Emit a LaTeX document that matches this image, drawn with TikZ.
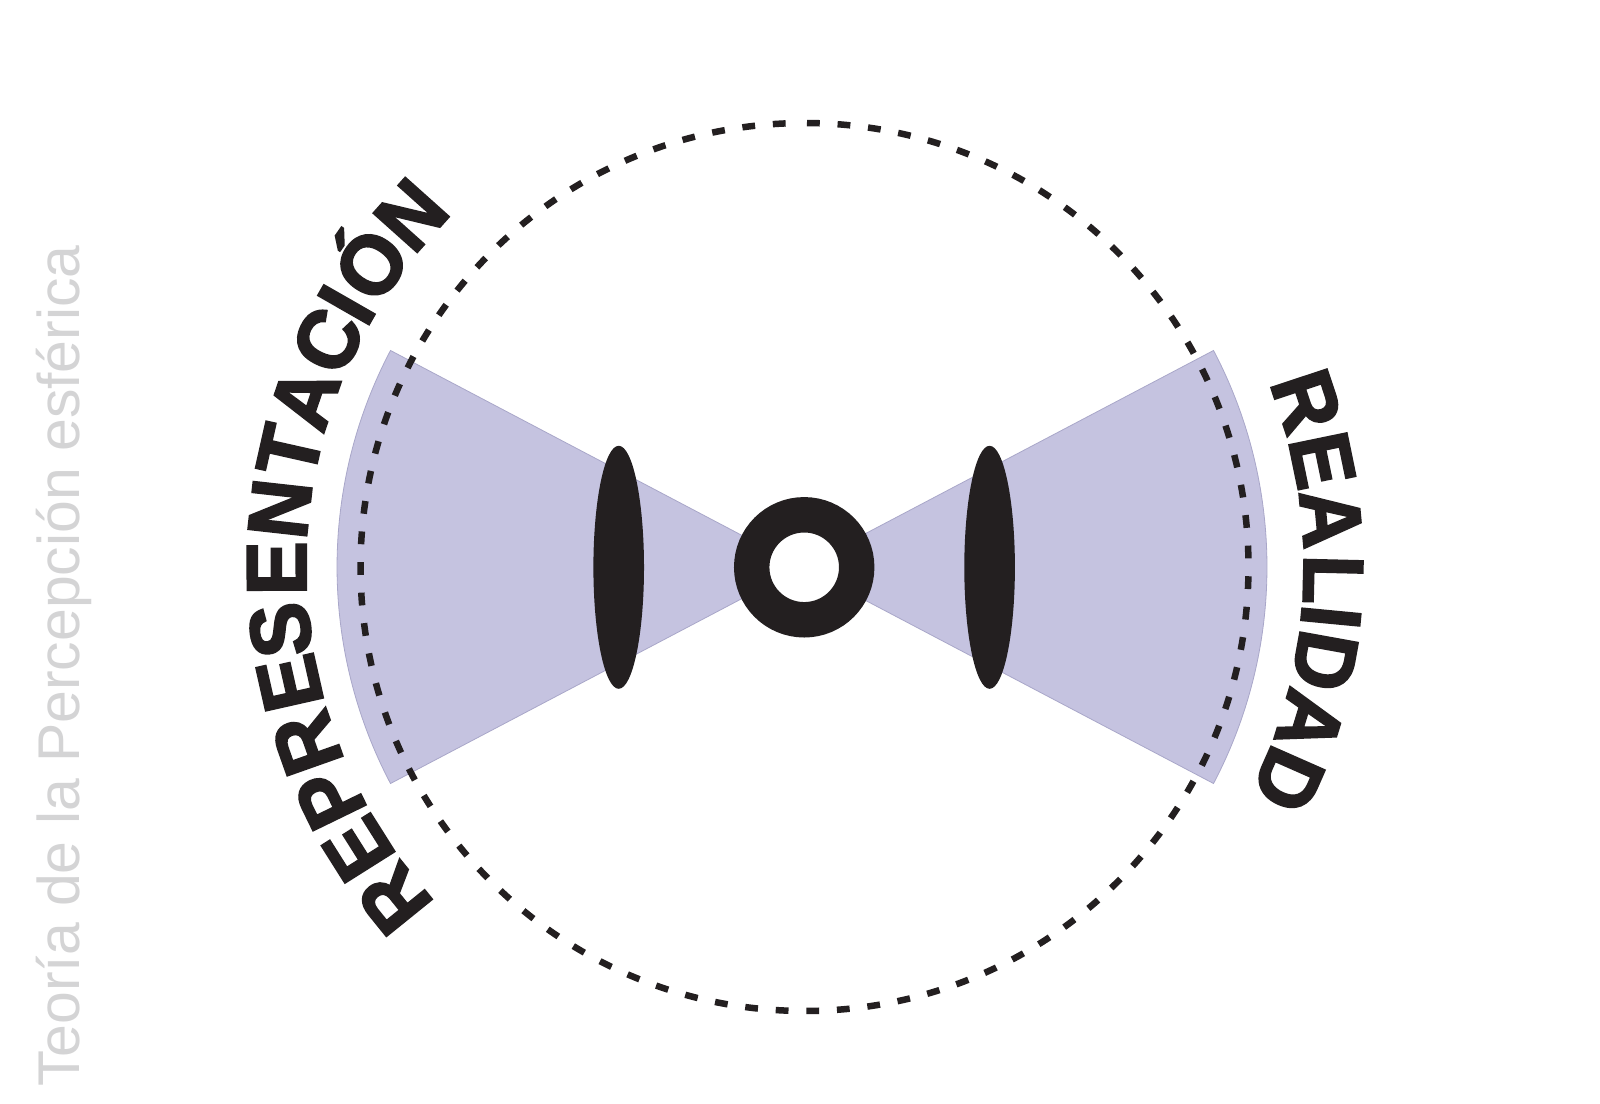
\documentclass[tikz,border=0pt]{standalone}
\usepackage{fontspec}
\setmainfont{Liberation Sans}
\newfontfamily\arcfont[FakeStretch=0.95,FakeBold=2.5]{Liberation Sans Bold}
\usetikzlibrary{calc,shapes.geometric}
\definecolor{ink}{HTML}{231F20}
\definecolor{fan}{HTML}{C5C3E0}
\definecolor{fanedge}{HTML}{A9A7C9}
\definecolor{titlegray}{HTML}{D4D4D5}
\tikzset{
  fanshape/.style={fill=fan,draw=fanedge,line width=0.8pt},
  lensshape/.style={fill=ink,draw=none,ellipse,minimum width=50.6pt,minimum height=243pt,inner sep=0pt},
  ringline/.style={draw=ink,line width=6.5pt,dash pattern=on 12.8pt off 17.82pt},
  arcletter/.style={anchor=base,inner sep=0pt,text=ink,font=\arcfont\fontsize{85}{85}\selectfont}
}
\begin{document}
\begin{tikzpicture}[x=1pt,y=1pt]
\useasboundingbox[fill=white] (0,0) rectangle (1600,1103);
% fan
\coordinate (apex) at (802,536);
\path[fanshape] (apex) -- ($(apex)+(152.25:465)$) arc[start angle=152.25,end angle=207.75,radius=465] -- cycle;
\path[fanshape] (apex) -- ($(apex)+(-27.75:465)$) arc[start angle=-27.75,end angle=27.75,radius=465] -- cycle;
% dashed circle
\coordinate (c) at (804.5,536);
\draw[ringline] (c) ++(89.68:444) arc[start angle=89.68,end angle=-268.5,radius=444];
% lenses
\node[lensshape] (lensL) at (618.7,535.7) {};
\node[lensshape] (lensR) at (989.6,535.7) {};
% eye ring
\draw[ink,line width=35.4pt,fill=white] (804.2,535.7) circle[radius=52.5];
% arc labels
\coordinate (lc) at (805,536);
\foreach \ch/\ang [count=\i] in {R/218.96,E/212.25,P/205.96,R/199.5,E/192.7,S/186.85,E/180.15,N/173.66,T/167.33,A/161.33,C/154.6,I/150.24,Ó/145.1,N/138.2}
  \node[arcletter,rotate=\ang-90] (repr\i) at ($(lc)+(\ang:499)$) {\ch};
\foreach \ch/\ang [count=\i] in {R/18.3,E/11.66,A/5.28,L/-1.38,I/-5.44,D/-10.25,A/-17,D/-23.8}
  \node[arcletter,rotate=\ang-90] (real\i) at ($(lc)+(\ang:499)$) {\ch};
% side title
\node[rotate=90,anchor=base west,inner sep=0pt,text=titlegray,font=\fontsize{58.9}{58.9}\selectfont] (title) at (79,16) {Teoría de la Percepción esférica};
\end{tikzpicture}
\end{document}
